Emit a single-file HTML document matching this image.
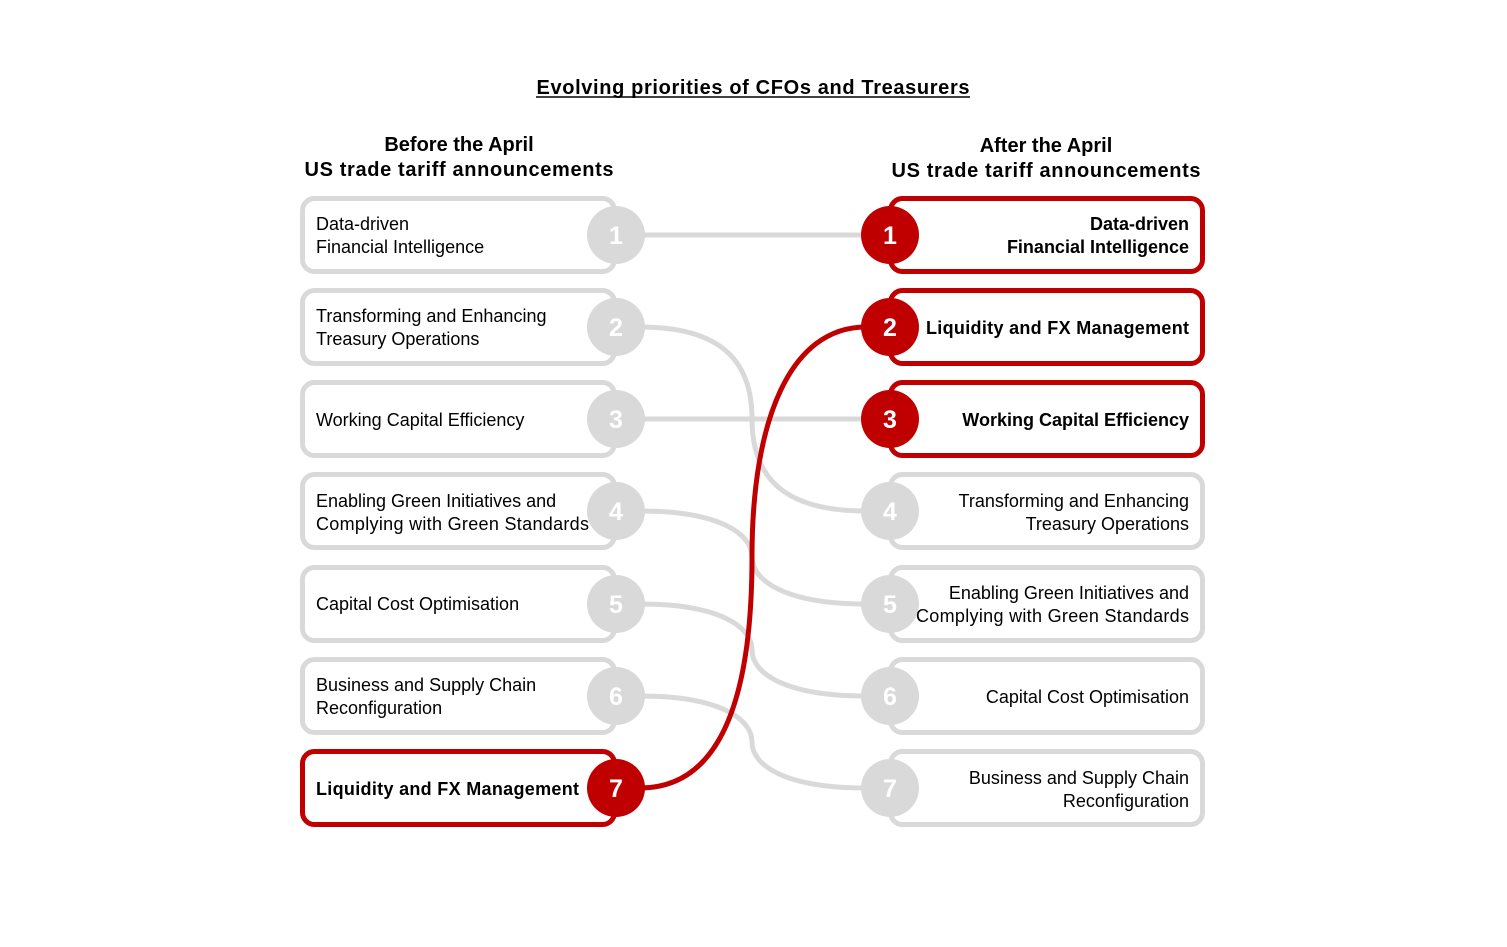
<!DOCTYPE html>
<html><head><meta charset="utf-8"><style>html,body{margin:0;padding:0;background:#fff}svg{display:block}text{font-family:"Liberation Sans",Arial,sans-serif}</style></head><body>
<svg width="1507" height="947" viewBox="0 0 1507 947" xmlns="http://www.w3.org/2000/svg">
<text x="753" y="94" font-size="20" font-weight="bold" text-anchor="middle" textLength="433">Evolving priorities of CFOs and Treasurers</text>
<line x1="536" y1="97" x2="970" y2="97" stroke="#000" stroke-width="1.5"/>
<g font-size="20" font-weight="bold" text-anchor="middle">
<text x="459" y="151">Before the April</text>
<text x="459" y="176" textLength="309">US trade tariff announcements</text>
<text x="1046" y="152">After the April</text>
<text x="1046" y="177" textLength="309">US trade tariff announcements</text>
</g>
<g fill="none" stroke="#d9d9d9" stroke-width="5">
<path d="M640 235 H866"/>
<path d="M640 419 H866"/>
<path d="M640 327 C720 327 752 360 752 419 C752 478 784 511 866 511"/>
<path d="M640 511 C720 511 752 534 752 557 C752 580 784 604 866 604"/>
<path d="M640 604 C720 604 752 627 752 650 C752 673 784 696 866 696"/>
<path d="M640 696 C720 696 752 719 752 742 C752 765 784 788 866 788"/>
</g>
<path d="M640 788 C720 788 752 700 752 557 C752 420 790 327 866 327" fill="none" stroke="#c00000" stroke-width="5"/>
<g stroke-width="5" fill="#fff">
<rect x="302.5" y="198.5" width="312" height="73" rx="12" stroke="#d9d9d9"/>
<rect x="302.5" y="290.5" width="312" height="73" rx="12" stroke="#d9d9d9"/>
<rect x="302.5" y="382.5" width="312" height="73" rx="12" stroke="#d9d9d9"/>
<rect x="302.5" y="474.5" width="312" height="73" rx="12" stroke="#d9d9d9"/>
<rect x="302.5" y="567.5" width="312" height="73" rx="12" stroke="#d9d9d9"/>
<rect x="302.5" y="659.5" width="312" height="73" rx="12" stroke="#d9d9d9"/>
<rect x="302.5" y="751.5" width="312" height="73" rx="12" stroke="#c00000"/>
<rect x="890.5" y="198.5" width="312" height="73" rx="12" stroke="#c00000"/>
<rect x="890.5" y="290.5" width="312" height="73" rx="12" stroke="#c00000"/>
<rect x="890.5" y="382.5" width="312" height="73" rx="12" stroke="#c00000"/>
<rect x="890.5" y="474.5" width="312" height="73" rx="12" stroke="#d9d9d9"/>
<rect x="890.5" y="567.5" width="312" height="73" rx="12" stroke="#d9d9d9"/>
<rect x="890.5" y="659.5" width="312" height="73" rx="12" stroke="#d9d9d9"/>
<rect x="890.5" y="751.5" width="312" height="73" rx="12" stroke="#d9d9d9"/>
</g>
<g>
<circle cx="616" cy="235" r="29" fill="#d9d9d9"/>
<circle cx="616" cy="327" r="29" fill="#d9d9d9"/>
<circle cx="616" cy="419" r="29" fill="#d9d9d9"/>
<circle cx="616" cy="511" r="29" fill="#d9d9d9"/>
<circle cx="616" cy="604" r="29" fill="#d9d9d9"/>
<circle cx="616" cy="696" r="29" fill="#d9d9d9"/>
<circle cx="616" cy="788" r="29" fill="#c00000"/>
<circle cx="890" cy="235" r="29" fill="#c00000"/>
<circle cx="890" cy="327" r="29" fill="#c00000"/>
<circle cx="890" cy="419" r="29" fill="#c00000"/>
<circle cx="890" cy="511" r="29" fill="#d9d9d9"/>
<circle cx="890" cy="604" r="29" fill="#d9d9d9"/>
<circle cx="890" cy="696" r="29" fill="#d9d9d9"/>
<circle cx="890" cy="788" r="29" fill="#d9d9d9"/>
</g>
<g fill="#fff" font-size="25" font-weight="bold" text-anchor="middle">
<text x="616" y="244">1</text><text x="616" y="336">2</text><text x="616" y="428">3</text><text x="616" y="520">4</text><text x="616" y="613">5</text><text x="616" y="705">6</text><text x="616" y="797">7</text>
<text x="890" y="244">1</text><text x="890" y="336">2</text><text x="890" y="428">3</text><text x="890" y="520">4</text><text x="890" y="613">5</text><text x="890" y="705">6</text><text x="890" y="797">7</text>
</g>
<g font-size="18" fill="#000">
<text x="316" y="230">Data-driven</text>
<text x="316" y="253">Financial Intelligence</text>
<text x="316" y="322">Transforming and Enhancing</text>
<text x="316" y="345">Treasury Operations</text>
<text x="316" y="426">Working Capital Efficiency</text>
<text x="316" y="507">Enabling Green Initiatives and</text>
<text x="316" y="530" textLength="273">Complying with Green Standards</text>
<text x="316" y="610">Capital Cost Optimisation</text>
<text x="316" y="691">Business and Supply Chain</text>
<text x="316" y="714">Reconfiguration</text>
<text x="316" y="795" font-weight="bold" textLength="263">Liquidity and FX Management</text>
</g>
<g font-size="18" fill="#000" text-anchor="end">
<text x="1189" y="230" font-weight="bold">Data-driven</text>
<text x="1189" y="253" font-weight="bold">Financial Intelligence</text>
<text x="1189" y="334" font-weight="bold" textLength="263">Liquidity and FX Management</text>
<text x="1189" y="426" font-weight="bold">Working Capital Efficiency</text>
<text x="1189" y="507">Transforming and Enhancing</text>
<text x="1189" y="530">Treasury Operations</text>
<text x="1189" y="599">Enabling Green Initiatives and</text>
<text x="1189" y="622" textLength="273">Complying with Green Standards</text>
<text x="1189" y="703">Capital Cost Optimisation</text>
<text x="1189" y="784">Business and Supply Chain</text>
<text x="1189" y="807">Reconfiguration</text>
</g>
</svg>
</body></html>
